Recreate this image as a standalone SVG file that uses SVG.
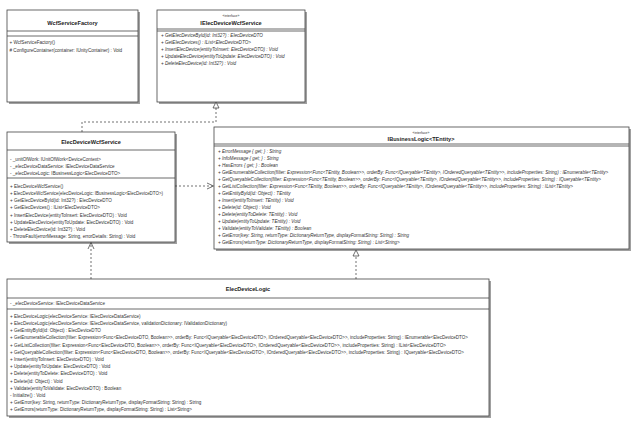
<svg xmlns="http://www.w3.org/2000/svg" width="640" height="429" viewBox="0 0 640 429">
<defs>
<style>
.sh{fill:#a0a0a0}
.bx{fill:#fff;stroke:#444;stroke-width:0.8}
.dv{stroke:#444;stroke-width:0.8}
text{font-family:"Liberation Sans",Arial,sans-serif;fill:#333;font-size:4.6px}
.i{font-style:italic}
.b{font-weight:bold;font-size:5.6px;fill:#222;text-anchor:middle}
.st{font-size:3.4px;text-anchor:middle}
.cn{fill:none;stroke:#333;stroke-width:0.7;stroke-dasharray:2,2}
.hd{fill:#fff;stroke:#333;stroke-width:0.7}
.op{fill:none;stroke:#333;stroke-width:0.7}
</style>
</defs>
<rect width="640" height="429" fill="#fff"/>

<g id="WcfServiceFactory">
<rect class="sh" x="9" y="12" width="131" height="92"/>
<rect class="bx" x="7" y="10" width="131" height="92"/>
<line class="dv" x1="7" y1="31" x2="138" y2="31"/>
<line class="dv" x1="7" y1="36" x2="138" y2="36"/>
<text class="b" x="72.5" y="24.5">WcfServiceFactory</text>
<text x="9.5" y="44">+ WcfServiceFactory()</text>
<text x="9.5" y="51.5"># ConfigureContainer(container: IUnityContainer) : Void</text>
</g>

<g id="IElecDeviceWcfService">
<rect class="sh" x="159" y="12" width="148" height="92"/>
<rect class="bx" x="157" y="10" width="148" height="92"/>
<line class="dv" x1="157" y1="29" x2="305" y2="29"/>
<line class="dv" x1="157" y1="31" x2="305" y2="31"/>
<text class="st" x="231" y="17">«interface»</text>
<text class="b" x="231" y="25">IElecDeviceWcfService</text>
<g class="i">
<text x="161" y="37">+ GetElecDeviceById(id: Int32?) : ElecDeviceDTO</text>
<text x="161" y="44">+ GetElecDevices() : IList&lt;ElecDeviceDTO&gt;</text>
<text x="161" y="51">+ InsertElecDevice(entityToInsert: ElecDeviceDTO) : Void</text>
<text x="161" y="58">+ UpdateElecDevice(entityToUpdate: ElecDeviceDTO) : Void</text>
<text x="161" y="65">+ DeleteElecDevice(id: Int32?) : Void</text>
</g>
</g>

<g id="ElecDeviceWcfService">
<rect class="sh" x="9" y="134" width="168" height="110"/>
<rect class="bx" x="7" y="132" width="168" height="110"/>
<line class="dv" x1="7" y1="150" x2="175" y2="150"/>
<line class="dv" x1="7" y1="178" x2="175" y2="178"/>
<text class="b" x="91" y="144">ElecDeviceWcfService</text>
<text x="10" y="160.8">- _unitOfWork: IUnitOfWork&lt;DeviceContext&gt;</text>
<text x="10" y="167.8">- _elecDeviceDataService: IElecDeviceDataService</text>
<text x="10" y="174.8">- _elecDeviceLogic: IBusinessLogic&lt;ElecDeviceDTO&gt;</text>
<text x="10" y="187.8">+ ElecDeviceWcfService()</text>
<text x="10" y="195" textLength="153" lengthAdjust="spacingAndGlyphs">+ ElecDeviceWcfService(elecDeviceLogic: IBusinessLogic&lt;ElecDeviceDTO&gt;)</text>
<text x="10" y="202.2">+ GetElecDeviceById(id: Int32?) : ElecDeviceDTO</text>
<text x="10" y="209.4">+ GetElecDevices() : IList&lt;ElecDeviceDTO&gt;</text>
<text x="10" y="216.6">+ InsertElecDevice(entityToInsert: ElecDeviceDTO) : Void</text>
<text x="10" y="223.8">+ UpdateElecDevice(entityToUpdate: ElecDeviceDTO) : Void</text>
<text x="10" y="231">+ DeleteElecDevice(id: Int32?) : Void</text>
<text x="10" y="238.2">- ThrowFault(errorMessage: String, errorDetails: String) : Void</text>
</g>

<g id="IBusinessLogic">
<rect class="sh" x="216" y="129" width="415" height="122"/>
<rect class="bx" x="214" y="127" width="415" height="122"/>
<line class="dv" x1="214" y1="144" x2="629" y2="144"/>
<line class="dv" x1="214" y1="146" x2="629" y2="146"/>
<text class="st" x="421" y="134">«interface»</text>
<text class="b" x="421" y="141">IBusinessLogic&lt;TEntity&gt;</text>
<g class="i">
<text x="218" y="152.8">+ ErrorMessage { get; } : String</text>
<text x="218" y="159.8">+ InfoMessage { get; } : String</text>
<text x="218" y="166.8">+ HasErrors { get; } : Boolean</text>
<text x="218" y="173.8">+ GetEnumerableCollection(filter: Expression&lt;Func&lt;TEntity, Boolean&gt;&gt;, orderBy: Func&lt;IQueryable&lt;TEntity&gt;, IOrderedQueryable&lt;TEntity&gt;&gt;, includeProperties: String) : IEnumerable&lt;TEntity&gt;</text>
<text x="218" y="180.8">+ GetQueryableCollection(filter: Expression&lt;Func&lt;TEntity, Boolean&gt;&gt;, orderBy: Func&lt;IQueryable&lt;TEntity&gt;, IOrderedQueryable&lt;TEntity&gt;&gt;, includeProperties: String) : IQueryable&lt;TEntity&gt;</text>
<text x="218" y="187.8">+ GetListCollection(filter: Expression&lt;Func&lt;TEntity, Boolean&gt;&gt;, orderBy: Func&lt;IQueryable&lt;TEntity&gt;, IOrderedQueryable&lt;TEntity&gt;&gt;, includeProperties: String) : IList&lt;TEntity&gt;</text>
<text x="218" y="194.8">+ GetEntityById(id: Object) : TEntity</text>
<text x="218" y="201.8">+ Insert(entityToInsert: TEntity) : Void</text>
<text x="218" y="208.8">+ Delete(id: Object) : Void</text>
<text x="218" y="215.8">+ Delete(entityToDelete: TEntity) : Void</text>
<text x="218" y="222.8">+ Update(entityToUpdate: TEntity) : Void</text>
<text x="218" y="229.8">+ Validate(entityToValidate: TEntity) : Boolean</text>
<text x="218" y="236.8">+ GetError(key: String, returnType: DictionaryReturnType, displayFormatString: String) : String</text>
<text x="218" y="243.8">+ GetErrors(returnType: DictionaryReturnType, displayFormatString: String) : List&lt;String&gt;</text>
</g>
</g>

<g id="ElecDeviceLogic">
<rect class="sh" x="9" y="281" width="482" height="137"/>
<rect class="bx" x="7" y="279" width="482" height="137"/>
<line class="dv" x1="7" y1="298" x2="489" y2="298"/>
<line class="dv" x1="7" y1="309" x2="489" y2="309"/>
<text class="b" x="248" y="291">ElecDeviceLogic</text>
<text x="10" y="304.6">- _elecDeviceService: IElecDeviceDataService</text>
<text x="10" y="317.8">+ ElecDeviceLogic(elecDeviceService: IElecDeviceDataService)</text>
<text x="10" y="325">+ ElecDeviceLogic(elecDeviceService: IElecDeviceDataService, validationDictionary: IValidationDictionary)</text>
<text x="10" y="332.2">+ GetEntityById(id: Object) : ElecDeviceDTO</text>
<text x="10" y="339.4" textLength="458" lengthAdjust="spacingAndGlyphs">+ GetEnumerableCollection(filter: Expression&lt;Func&lt;ElecDeviceDTO, Boolean&gt;&gt;, orderBy: Func&lt;IQueryable&lt;ElecDeviceDTO&gt;, IOrderedQueryable&lt;ElecDeviceDTO&gt;&gt;, includeProperties: String) : IEnumerable&lt;ElecDeviceDTO&gt;</text>
<text x="10" y="346.6" textLength="436" lengthAdjust="spacingAndGlyphs">+ GetListCollection(filter: Expression&lt;Func&lt;ElecDeviceDTO, Boolean&gt;&gt;, orderBy: Func&lt;IQueryable&lt;ElecDeviceDTO&gt;, IOrderedQueryable&lt;ElecDeviceDTO&gt;&gt;, includeProperties: String) : IList&lt;ElecDeviceDTO&gt;</text>
<text x="10" y="353.8" textLength="454" lengthAdjust="spacingAndGlyphs">+ GetQueryableCollection(filter: Expression&lt;Func&lt;ElecDeviceDTO, Boolean&gt;&gt;, orderBy: Func&lt;IQueryable&lt;ElecDeviceDTO&gt;, IOrderedQueryable&lt;ElecDeviceDTO&gt;&gt;, includeProperties: String) : IQueryable&lt;ElecDeviceDTO&gt;</text>
<text x="10" y="361">+ Insert(entityToInsert: ElecDeviceDTO) : Void</text>
<text x="10" y="368.2">+ Update(entityToUpdate: ElecDeviceDTO) : Void</text>
<text x="10" y="375.4">+ Delete(entityToDelete: ElecDeviceDTO) : Void</text>
<text x="10" y="382.6">+ Delete(id: Object) : Void</text>
<text x="10" y="389.8">+ Validate(entityToValidate: ElecDeviceDTO) : Boolean</text>
<text x="10" y="397">- Initialize() : Void</text>
<text x="10" y="404.2">+ GetError(key: String, returnType: DictionaryReturnType, displayFormatString: String) : String</text>
<text x="10" y="411.4">+ GetErrors(returnType: DictionaryReturnType, displayFormatString: String) : List&lt;String&gt;</text>
</g>

<g id="connectors">
<polyline class="cn" points="82,132 82,122 216,122 216,108"/>
<polygon class="hd" points="216,102 213,108 219,108"/>
<line class="cn" x1="175" y1="186" x2="212" y2="186"/>
<polyline class="op" points="207,183 213.5,186 207,189"/>
<line class="cn" x1="91" y1="279" x2="91" y2="243"/>
<polyline class="op" points="88,249 91,242.5 94,249"/>
<line class="cn" x1="356" y1="279" x2="356" y2="256"/>
<polygon class="hd" points="356,250 353,256 359,256"/>
</g>
</svg>
